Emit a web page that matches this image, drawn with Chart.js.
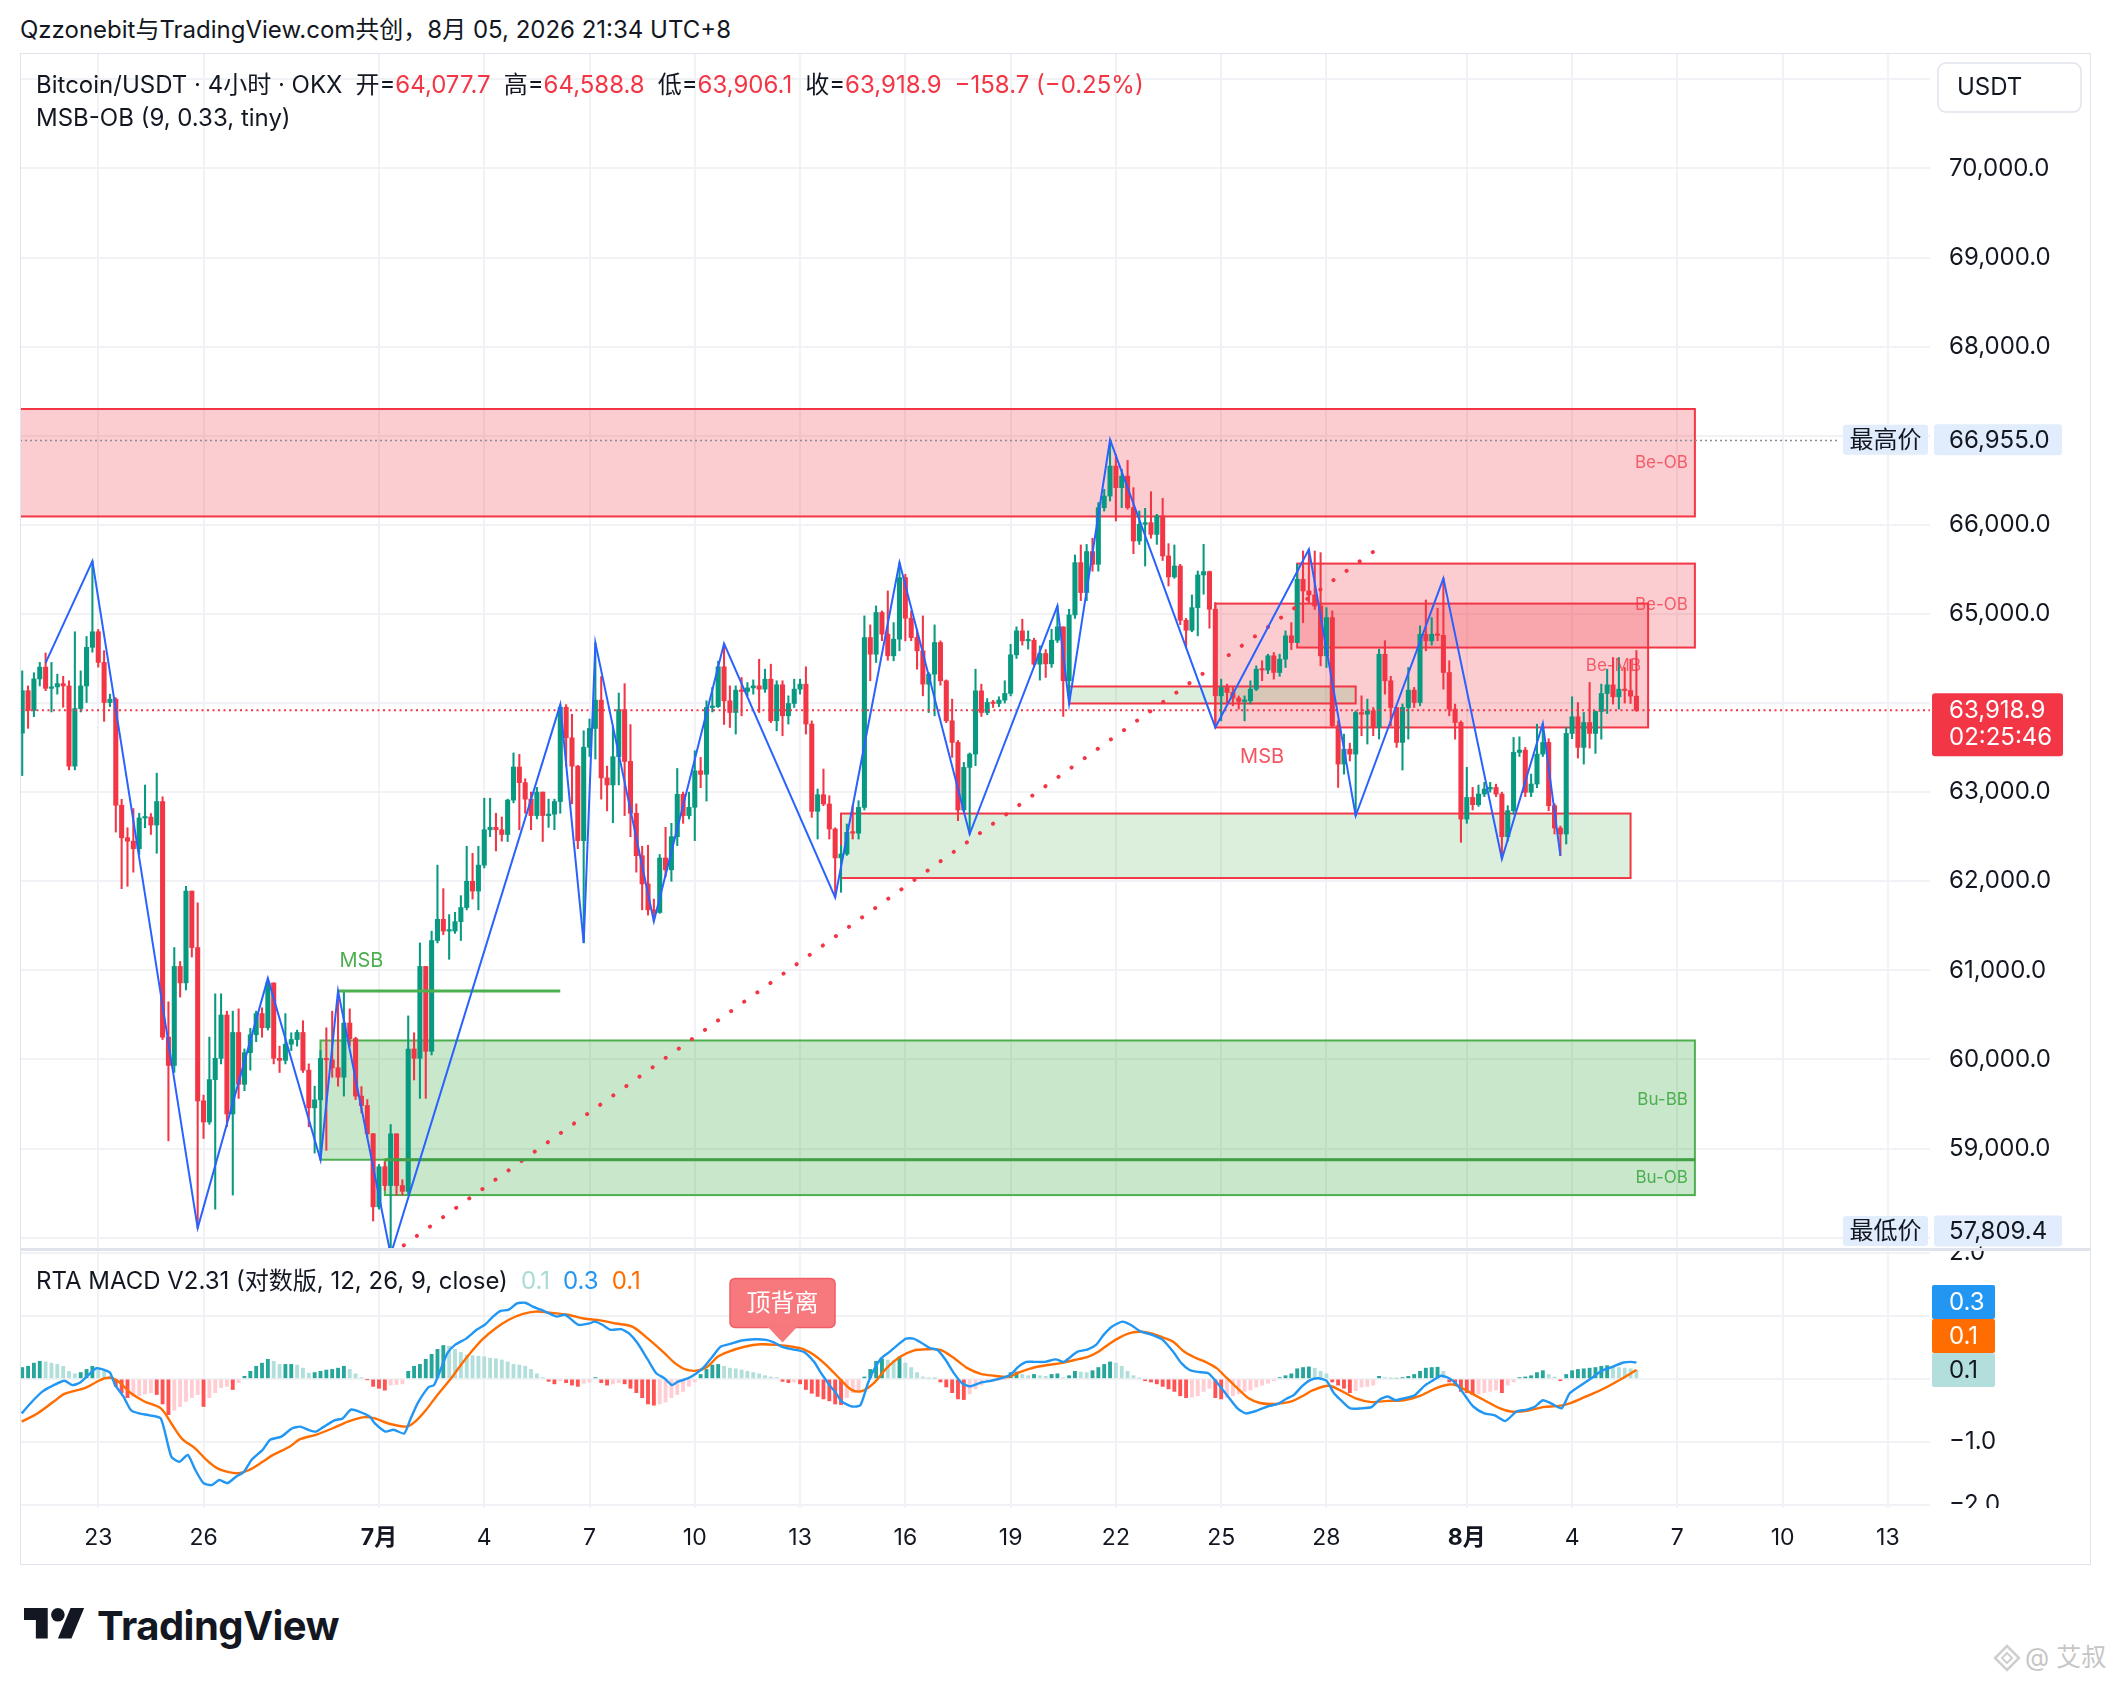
<!DOCTYPE html>
<html>
<head>
<meta charset="utf-8">
<title>Bitcoin/USDT 4h</title>
<script src="https://cdn.jsdelivr.net/npm/chart.js@4.4.1/dist/chart.umd.min.js"></script>
<style>
  html, body { margin: 0; padding: 0; background: #ffffff; }
  body { position: relative; width: 2110px; height: 1684px; overflow: hidden;
         font-family: Inter, "Noto Sans CJK SC", "Noto Sans", sans-serif; color: #131722; }
  .abs { position: absolute; white-space: nowrap; z-index: 2; }
  canvas { position: absolute; z-index: 1; }
  #main { left: 20px; top: 54px; }
  #macd { left: 20px; top: 1251px; }
  #title { left: 20px; top: 13px; font-size: 24px; line-height: 34px; }
  #frame { left: 20px; top: 53px; width: 2071px; height: 1512px; border: 1.5px solid #e0e3eb;
           box-sizing: border-box; pointer-events: none; z-index: 3; }
  #sep { left: 20px; top: 1248px; width: 2070px; height: 3px; background: #e0e3eb; }
  #legend1 { left: 36px; top: 68px; font-size: 24px; line-height: 34px; }
  #legend2 { left: 36px; top: 101px; font-size: 24px; line-height: 34px; }
  #legend3 { left: 36px; top: 1264px; font-size: 24px; line-height: 34px; }
  .red { color: #f23645; }
  .gap { margin-left: 13px; }
  #logo { left: 24px; top: 1601px; }
  #logotext { left: 97px; top: 1604px; font-size: 40px; line-height: 43px; font-weight: 700; letter-spacing: -0.5px; }
  #mark { left: 1993px; top: 1640px; font-size: 25px; line-height: 34px; color: #c6c6c6; }
  #mark svg { vertical-align: -6px; margin-right: 4px; }
</style>
</head>
<body>
<canvas id="main" width="2070" height="1195"></canvas>
<canvas id="macd" width="2070" height="313"></canvas>
<div id="sep" class="abs"></div>
<div id="frame" class="abs"></div>

<div id="title" class="abs">Qzzonebit与TradingView.com共创，8月 05, 2026 21:34 UTC+8</div>
<div id="legend1" class="abs">Bitcoin/USDT · 4小时 · OKX<span class="gap">开=<span class="red">64,077.7</span></span><span class="gap">高=<span class="red">64,588.8</span></span><span class="gap">低=<span class="red">63,906.1</span></span><span class="gap">收=<span class="red">63,918.9</span></span><span class="gap red">−158.7 (−0.25%)</span></div>
<div id="legend2" class="abs">MSB-OB (9, 0.33, tiny)</div>
<div id="legend3" class="abs">RTA MACD V2.31 (对数版, 12, 26, 9, close)<span class="gap" id="lh" style="color:#a9dbd4"></span><span class="gap" id="lm" style="color:#2196f3"></span><span class="gap" id="ls" style="color:#ff6d00"></span></div>

<svg id="logo" class="abs" width="61" height="48" viewBox="0 0 36 28"><path fill="#131722" d="M14 22H7V11H0V4h14v18zM28 22h-8l7.5-18h8L28 22z"/><circle fill="#131722" cx="20" cy="8" r="4"/></svg>
<div id="logotext" class="abs">TradingView</div>
<div id="mark" class="abs"><svg width="28" height="28" viewBox="0 0 28 28"><path d="M14 2 L26 14 L14 26 L2 14 Z" fill="none" stroke="#cfcfcf" stroke-width="2.5"/><path d="M14 9 L19 14 L14 19 L9 14 Z" fill="none" stroke="#cfcfcf" stroke-width="2"/></svg>@ 艾叔</div>

<script>
// 4h candles from Jun 20 20:00 (index 0) to Aug 5 20:00 (index 276)
const OPEN = [
  63663,64139,63916,64271,64403,64165,64181,64218,64192,63292,
  63938,64192,64625,64800,64456,64006,64043,62853,62488,62450,
  62366,62710,62720,62631,62895,60251,59933,61044,60859,61890,
  61256,59536,59298,59774,60013,60499,59388,60303,59721,60076,
  60277,60515,60356,60859,60013,59990,60171,60224,60303,59880,
  59457,59547,60013,59996,59907,59801,60409,60234,59589,59483,
  59166,58346,58796,58585,59166,58585,58520,60118,60013,61044,
  60092,61335,61573,61441,61441,61547,61705,62000,61890,62181,
  62578,62605,62578,62525,62911,63282,63107,62922,62737,63001,
  62737,62753,62895,63953,63610,63292,62456,63504,63715,64033,
  63160,63081,63398,63927,63345,62763,62287,61970,61679,61650,
  62261,62128,62500,62975,62737,62830,63240,63200,63950,63960,
  64407,64025,63894,64145,64130,64170,64193,64156,64268,63801,
  64205,63857,63995,64156,64212,63764,62785,62971,62867,62587,
  62262,62306,62549,62540,62829,64735,64548,65016,64773,64530,
  64717,65408,64952,64735,64586,64212,64324,64679,64250,63801,
  63558,62800,63278,63427,64137,63894,64007,63995,64033,64108,
  64541,64810,64698,64705,64436,64556,64440,64705,64855,64250,
  64989,65576,65240,65700,65557,66193,66323,66660,66417,66547,
  66193,65819,66006,66025,65893,66099,65651,65415,65538,64929,
  64817,65071,65438,65475,65053,64081,64175,64119,64055,64018,
  64025,64156,64380,64370,64530,64343,64492,64754,64679,65389,
  65258,65213,65090,64530,64959,63745,63315,63483,63427,63894,
  63875,63913,63726,64548,64250,63950,63558,63950,64145,64006,
  64772,64698,64772,64760,64343,63932,63782,62698,62941,62859,
  62979,63035,63053,62979,62500,62792,63446,63472,62998,63091,
  63427,63558,62848,62597,62530,63659,63846,63502,63782,63659,
  63905,64107,64204,64070,64156,64140,64077.7
];
const HIGH = [
  64361,64192,64340,64456,64562,64456,64324,64300,64250,64800,
  64361,64747,65593,64826,64588,64100,64060,62920,62600,62816,
  62763,63080,62760,63213,62948,60647,61256,61100,61943,61890,
  61759,59600,60251,60737,60737,60542,60542,60568,60118,60350,
  60542,60580,60912,60859,60150,60515,60300,60330,60435,59950,
  59700,60100,60356,60542,60769,60753,60568,60250,59695,59550,
  59170,58822,58850,59270,59166,58650,60489,60300,61308,61044,
  61440,62181,61917,61626,61652,61838,62393,62314,62393,62932,
  62932,62763,62721,62922,63440,63424,63150,63001,63054,63001,
  62922,62922,63982,63982,63874,63300,63689,63821,64676,64298,
  63292,63742,64112,64218,63758,62869,62393,62404,61800,62300,
  62605,62650,63266,63001,63000,63465,63390,64025,64175,64470,
  64668,64193,64193,64287,64230,64260,64492,64380,64436,64250,
  64250,64081,64268,64268,64407,63800,63035,63259,62960,62600,
  62400,62643,62848,62904,64978,64877,65090,65034,65258,64903,
  65576,65445,65034,64829,64978,64343,64877,64698,64260,64044,
  63580,63334,63440,64380,64212,64050,64030,64070,64250,64660,
  64855,64941,64810,64728,64642,64600,64829,65090,64855,65053,
  65662,65774,65780,65850,66250,66398,66955,66790,66622,66723,
  66417,66155,66185,66372,66118,66297,65789,65774,65557,64950,
  65213,65482,65781,65482,65127,64268,64212,64175,64080,64080,
  64250,64418,64474,64548,64567,64548,64810,64903,65557,65706,
  65725,65706,65688,65071,65034,63800,63651,63550,63913,64081,
  64044,63950,64604,64700,64300,63950,63990,64399,64175,64866,
  65157,64959,65064,65400,64474,63988,63800,63278,63053,63080,
  63110,63110,63090,63000,62848,63614,63621,63502,63203,63763,
  63771,63600,62870,62620,63726,64070,64006,63894,64231,63913,
  64212,64380,64511,64511,64399,64492,64588.8
];
const LOW = [
  63186,63716,63848,64192,64139,63900,64100,63953,63250,63250,
  63900,64006,64570,64403,63795,63960,62552,61917,61943,62102,
  62300,62600,62525,62314,60224,59087,59855,60700,60780,61150,
  58108,59113,59272,58320,59950,59245,58478,59563,59650,59880,
  60200,60250,60330,59950,59854,59950,60100,60150,59854,59245,
  58950,58875,58980,59800,59700,59589,60150,59550,59400,59120,
  58187,58320,58532,57809.4,58478,58478,58480,59770,59563,59563,
  60050,61308,61400,61124,61415,61335,61679,61800,61679,62150,
  62500,62340,62450,62446,62880,62578,62763,62578,62700,62446,
  62605,62578,62763,63292,62869,62366,61308,63400,63372,62922,
  62790,62657,63081,62737,62500,62102,61679,61620,61550,61640,
  62050,62000,62400,62650,62700,62456,63050,62900,63900,63950,
  63760,63726,63652,63857,64080,64100,63894,64120,63780,63689,
  63633,63764,63950,64100,63652,62717,62474,62848,62474,61820,
  61876,62290,62474,62474,62800,64250,64455,64700,64480,64474,
  64586,64698,64700,64380,64081,63894,63857,64200,63780,63390,
  62680,62780,62530,63297,63850,63870,63950,63960,64000,64080,
  64500,64650,64605,64400,64257,64287,64400,64680,63850,63990,
  64950,65150,65150,65480,65480,66155,66267,66043,66193,66174,
  65677,65780,65538,65850,65781,65600,65314,65400,64880,64623,
  64800,64754,65221,64840,63726,63800,64000,63969,63932,63800,
  63990,64140,64250,64330,64268,64300,64399,64600,64679,64903,
  65127,65050,64417,64399,63726,63053,63202,63350,62735,63633,
  63540,63633,63596,64100,63745,63502,63248,63595,63950,63969,
  64586,64650,64700,64156,63857,63595,62437,62650,62800,62840,
  62950,63000,62950,62250,62450,62750,63400,62950,62950,63050,
  63400,62792,62530,62287,62418,63600,63382,63315,63494,63435,
  63595,63883,63988,63932,64000,63995,63906.1
];
const CLOSE = [
  64139,63916,64271,64403,64165,64181,64218,64192,63292,63938,
  64192,64625,64800,64456,64006,64043,62853,62488,62450,62366,
  62710,62720,62631,62895,60251,59933,61044,60859,61890,61256,
  59536,59298,59774,60013,60499,59388,60303,59721,60076,60277,
  60515,60356,60859,60013,59990,60171,60224,60303,59880,59457,
  59547,60013,59996,59907,59801,60409,60234,59589,59483,59166,
  58346,58796,58585,59166,58585,58520,60118,60013,61044,60092,
  61335,61573,61441,61441,61547,61705,62000,61890,62181,62578,
  62605,62578,62525,62911,63282,63107,62922,62737,63001,62737,
  62753,62895,63953,63610,63292,62456,63504,63715,64033,63160,
  63081,63398,63927,63345,62763,62287,61970,61679,61650,62261,
  62128,62500,62975,62737,62830,63240,63200,63950,63960,64407,
  64025,63894,64145,64130,64170,64193,64156,64268,63801,64205,
  63857,63995,64156,64212,63764,62785,62971,62867,62587,62262,
  62306,62549,62540,62829,64735,64548,65016,64773,64530,64717,
  65408,64952,64735,64586,64212,64324,64679,64250,63801,63558,
  62800,63278,63427,64137,63894,64007,63995,64033,64108,64541,
  64810,64698,64705,64436,64556,64440,64705,64855,64250,64989,
  65576,65240,65700,65557,66193,66323,66660,66417,66547,66193,
  65819,66006,66025,65893,66099,65651,65415,65538,64929,64817,
  65071,65438,65475,65053,64081,64175,64119,64055,64018,64025,
  64156,64380,64370,64530,64343,64492,64754,64679,65389,65258,
  65213,65090,64530,64959,63745,63315,63483,63427,63894,63875,
  63913,63726,64548,64250,63950,63558,63950,64145,64006,64772,
  64698,64772,64760,64343,63932,63782,62698,62941,62859,62979,
  63035,63053,62979,62500,62792,63446,63472,62998,63091,63427,
  63558,62848,62597,62530,63659,63846,63502,63782,63659,63905,
  64107,64204,64070,64156,64140,64077.7,63918.9
];

// MACD histogram, one bar per candle
const HIST = [
  0.18,0.2,0.25,0.28,0.27,0.25,0.23,0.2,0.12,0.08,
  0.1,0.15,0.2,0.18,0.12,0.04,-0.12,-0.22,-0.3,-0.28,
  -0.27,-0.24,-0.22,-0.25,-0.4,-0.57,-0.5,-0.44,-0.36,-0.3,
  -0.25,-0.44,-0.3,-0.22,-0.14,-0.12,-0.17,-0.06,0.04,0.12,
  0.2,0.25,0.31,0.28,0.23,0.23,0.23,0.22,0.17,0.09,
  0.1,0.12,0.14,0.15,0.17,0.2,0.15,0.08,0.02,-0.01,
  -0.12,-0.15,-0.18,-0.1,-0.09,-0.08,0.12,0.2,0.23,0.31,
  0.39,0.47,0.53,0.52,0.47,0.42,0.38,0.37,0.36,0.35,
  0.33,0.32,0.3,0.27,0.23,0.22,0.2,0.15,0.08,0.02,
  -0.04,-0.08,-0.03,-0.06,-0.1,-0.12,-0.07,-0.05,0.02,-0.06,
  -0.1,-0.08,-0.06,-0.08,-0.15,-0.22,-0.3,-0.4,-0.42,-0.4,
  -0.37,-0.3,-0.25,-0.2,-0.12,-0.05,0.07,0.15,0.22,0.23,
  0.2,0.17,0.16,0.14,0.12,0.1,0.08,0.05,0.03,0.02,
  -0.04,-0.06,-0.05,-0.08,-0.17,-0.23,-0.28,-0.32,-0.35,-0.4,
  -0.41,-0.3,-0.22,-0.18,0.03,0.15,0.28,0.32,0.3,0.29,
  0.35,0.25,0.18,0.1,0.03,0.01,0.005,-0.05,-0.13,-0.22,
  -0.32,-0.33,-0.24,-0.16,-0.1,-0.05,-0.04,-0.02,-0.01,0.1,
  0.11,0.07,0.05,0.07,0.05,0.04,0.07,0.08,0.02,0.05,
  0.12,0.11,0.1,0.13,0.18,0.23,0.27,0.25,0.2,0.12,
  0.05,0.01,-0.03,-0.05,-0.08,-0.12,-0.16,-0.2,-0.27,-0.3,
  -0.29,-0.27,-0.2,-0.15,-0.3,-0.32,-0.3,-0.27,-0.24,-0.2,
  -0.18,-0.13,-0.1,-0.07,-0.03,0.02,0.05,0.08,0.16,0.18,
  0.19,0.17,0.12,0.08,-0.05,-0.1,-0.15,-0.22,-0.19,-0.13,
  -0.12,-0.1,0.04,0.02,0.01,0.005,0.02,0.04,0.07,0.12,
  0.17,0.18,0.185,0.12,-0.05,-0.1,-0.2,-0.22,-0.25,-0.24,
  -0.22,-0.2,-0.18,-0.22,-0.1,-0.05,0.02,0.03,0.05,0.1,
  0.13,0.07,0.03,-0.03,0.07,0.13,0.15,0.16,0.17,0.18,
  0.2,0.21,0.19,0.18,0.17,0.16,0.14
];

// MACD line and signal line, read at points along the curves (x = candle index)
const MACD_X = [-0.1,1.7,3.5,5.4,7.2,8.6,9.9,11.3,12.7,14.1,15.0,15.9,17.3,18.6,20.0,21.8,23.7,25.5,26.9,28.3,
  29.6,31.0,32.4,33.7,35.1,36.5,37.9,39.2,41.1,42.4,44.3,46.1,47.5,48.9,50.2,51.6,53.4,54.8,56.2,57.6,
  59.4,60.3,62.1,63.5,65.3,66.3,67.6,69.5,70.4,71.3,72.7,74.0,75.9,77.7,79.1,80.5,81.8,83.2,84.6,86.0,
  87.3,88.7,90.1,91.4,92.8,93.7,95.1,96.9,97.9,99.2,100.6,102.4,103.8,105.2,107.0,108.4,109.8,111.1,112.0,113.9,
  115.3,116.6,118.0,119.4,121.2,123.0,125.3,127.2,128.5,129.9,131.7,133.6,135.4,136.4,137.2,138.2,139.1,140.1,141.9,143.3,
  144.6,145.6,146.9,148.3,149.7,151.1,152.4,153.8,155.2,156.5,157.9,159.3,160.7,162.0,163.9,165.7,167.5,168.9,170.3,171.7,
  173.0,174.9,176.7,178.1,179.0,180.4,182.2,183.6,184.9,186.3,188.1,189.5,191.3,193.2,195.0,196.8,198.2,199.6,201.0,202.8,
  204.2,206.0,207.8,209.2,211.0,212.9,214.7,216.1,217.4,218.8,220.2,221.6,223.0,224.3,225.7,227.1,228.9,230.7,232.1,233.5,
  234.8,236.2,238.1,239.9,241.3,242.6,244.0,245.4,246.8,248.1,250.0,251.8,253.6,255.5,257.3,258.7,260.0,261.4,263.2,264.6,
  266.4,268.3,270.1,271.9,273.8,275.1,276.0];
const MACD_Y = [-0.55,-0.36,-0.20,-0.10,-0.03,-0.10,-0.06,0.06,0.17,0.14,0.10,-0.10,-0.28,-0.50,-0.55,-0.58,-0.63,-1.24,-1.32,-1.21,
  -1.45,-1.66,-1.69,-1.61,-1.66,-1.56,-1.48,-1.29,-1.13,-0.97,-0.92,-0.79,-0.76,-0.81,-0.84,-0.76,-0.66,-0.63,-0.49,-0.52,
  -0.60,-0.71,-0.84,-0.81,-0.87,-0.66,-0.39,-0.13,-0.10,0.09,0.41,0.54,0.64,0.78,0.86,0.99,1.08,1.10,1.20,1.21,
  1.15,1.10,1.04,0.99,1.02,0.96,0.86,0.88,0.91,0.86,0.78,0.79,0.72,0.57,0.30,0.09,0.01,-0.10,-0.05,0.01,
  0.09,0.19,0.35,0.51,0.56,0.61,0.63,0.62,0.58,0.51,0.47,0.43,0.27,0.12,0.01,-0.12,-0.22,-0.36,-0.44,-0.42,
  -0.07,0.14,0.33,0.43,0.54,0.64,0.64,0.57,0.49,0.46,0.30,0.09,-0.07,-0.12,-0.06,-0.03,0.01,0.06,0.19,0.27,
  0.27,0.27,0.31,0.27,0.33,0.43,0.47,0.54,0.70,0.83,0.91,0.86,0.75,0.70,0.62,0.43,0.25,0.14,0.11,0.09,
  -0.05,-0.26,-0.47,-0.55,-0.51,-0.44,-0.40,-0.32,-0.26,-0.12,-0.02,0.01,-0.03,-0.23,-0.36,-0.47,-0.47,-0.45,-0.33,-0.28,
  -0.34,-0.31,-0.26,-0.10,-0.02,0.05,0.01,-0.10,-0.28,-0.44,-0.55,-0.58,-0.67,-0.52,-0.49,-0.44,-0.34,-0.39,-0.47,-0.23,
  -0.11,0.01,0.13,0.19,0.26,0.27,0.26];
const SIGNAL_X = [-0.1,2.6,5.4,7.2,9.0,10.9,12.7,14.1,15.4,16.8,18.6,20.9,23.7,25.5,27.3,29.6,31.5,33.3,35.1,37.0,
  38.8,41.1,42.9,45.7,47.5,50.2,53.0,55.7,58.5,60.3,62.6,65.8,67.2,69.0,70.8,73.1,75.0,76.8,78.6,80.9,
  83.2,85.5,87.8,90.5,93.3,96.0,98.8,101.5,104.3,107.0,109.8,111.6,113.4,115.3,117.1,118.9,120.7,123.5,126.2,129.0,
  131.7,133.6,135.4,137.7,139.8,141.9,143.7,145.6,147.8,150.1,152.4,154.7,157.0,159.3,161.6,163.9,166.2,168.5,170.7,173.0,
  175.3,177.6,179.9,182.2,184.0,185.9,187.7,189.5,191.3,193.2,195.0,196.8,198.7,200.5,202.3,204.2,206.0,207.8,209.7,211.5,
  213.3,215.2,217.0,218.8,220.7,223.4,225.7,228.0,230.7,233.5,236.2,239.0,241.7,244.0,245.4,247.2,250.0,252.7,254.5,257.3,
  260.0,262.8,264.6,267.4,270.1,272.9,276.0];
const SIGNAL_Y = [-0.68,-0.55,-0.36,-0.24,-0.19,-0.14,-0.05,0.01,0.01,-0.07,-0.23,-0.36,-0.47,-0.71,-0.95,-1.11,-1.29,-1.42,-1.48,-1.50,
  -1.45,-1.32,-1.21,-1.08,-0.96,-0.89,-0.79,-0.68,-0.61,-0.63,-0.71,-0.76,-0.68,-0.50,-0.28,-0.02,0.22,0.43,0.62,0.80,
  0.94,1.03,1.07,1.05,1.02,0.96,0.93,0.88,0.83,0.64,0.41,0.25,0.15,0.13,0.19,0.35,0.43,0.51,0.55,0.54,
  0.51,0.47,0.38,0.20,0.00,-0.18,-0.19,-0.07,0.17,0.35,0.45,0.47,0.46,0.33,0.17,0.08,0.05,0.03,0.11,0.18,
  0.22,0.25,0.30,0.35,0.43,0.56,0.66,0.73,0.75,0.72,0.66,0.59,0.43,0.34,0.27,0.17,0.01,-0.15,-0.31,-0.38,
  -0.40,-0.39,-0.36,-0.28,-0.18,-0.11,-0.20,-0.31,-0.37,-0.35,-0.34,-0.27,-0.15,-0.09,-0.11,-0.20,-0.34,-0.47,-0.52,-0.51,
  -0.45,-0.43,-0.39,-0.28,-0.17,-0.03,0.14];

// MSB-OB zigzag pivots
const ZZ_X = [4,12,30,42,51,54,63,92,96,98,108,120,139,150,162,177,179,186,204,220,228,243,253,260,263];
const ZZ_PRICE = [64450,65593,58108,60912,58875,60769,57809.4,63982,61308,64676,61550,64668,61820,65576,62530,65090,63990,66955,63726,65725,62735,65400,62250,63771,62287];

// order-block / breaker zones
const ZONE_START  = [-5, 51, 62, 140, 204, 218, 179];
const ZONE_END    = [286, 286, 286, 275, 278, 286, 228];
const ZONE_TOP    = [67300, 60213, 58875, 62760, 65116, 65565, 64186];
const ZONE_BOTTOM = [66094, 58875, 58478, 62036, 63726, 64623, 63995];
const ZONE_KIND   = ['bear', 'bull', 'bull', 'broken', 'bear', 'bear', 'broken'];
const ZONE_LABEL  = ['Be-OB', 'Bu-BB', 'Bu-OB', '', 'Be-MB', 'Be-OB', ''];
const ZONE_LABEL_PRICE = [66697, 59548, 58673, null, 64419, 65098, null];

const MSB_FROM = 54, MSB_TO = 92, MSB_PRICE = 60769;
const BU_LINE_FROM = 62, BU_LINE_TO = 286, BU_LINE_PRICE = 58875;
const TREND_X = [63, 233];
const TREND_PRICE = [57809.4, 65792];
const LAST_PRICE = 63918.9, COUNTDOWN = '02:25:46';
const HIGH_MARK = 66955.0, LOW_MARK = 57809.4;
const CALLOUT_X = 130, CALLOUT_Y = 0.58;

const TICK_POS = [13, 31, 61, 79, 97, 115, 133, 151, 169, 187, 205, 223, 247, 265, 283, 301, 319];
const TICK_LABELS = ['23','26','7月','4','7','10','13','16','19','22','25','28','8月','4','7','10','13'];
const PRICE_TICKS = [58000,59000,60000,61000,62000,63000,64000,65000,66000,67000,68000,69000,70000,71000];
const MACD_TICKS = [-2, -1, 0, 1, 2];

const X_MIN = -0.38, X_MAX = 326.2;
const Y_MIN = 57873, Y_MAX = 71284;
const M_MIN = -2.055, M_MAX = 2.034;

const FONT = 'Inter, "Noto Sans CJK SC", "Noto Sans", sans-serif';
const TEXT = '#131722';
const GRID = '#f0f2f5';
const UP = '#089981', DOWN = '#f23645';
const ZONE_STYLE = {
  bear:   { fill: 'rgba(242,54,69,0.25)', line: '#f23645' },
  bull:   { fill: 'rgba(76,175,80,0.30)', line: '#4caf50' },
  broken: { fill: 'rgba(76,175,80,0.20)', line: '#f23645' }
};

Chart.defaults.font.family = FONT;
Chart.defaults.color = TEXT;

const idx = CLOSE.map((_, i) => i);
const candleColor = CLOSE.map((c, i) => c >= OPEN[i] ? UP : DOWN);
const fmtPrice = v => v.toLocaleString('en-US', { minimumFractionDigits: 1, maximumFractionDigits: 1 });
const fmtMacd = v => (v < 0 ? '\u2212' : '') + Math.abs(v).toFixed(1);

function badge(ctx, x, y, w, h, bg, r) {
  ctx.beginPath();
  ctx.roundRect(x, y, w, h, r);
  ctx.fillStyle = bg;
  ctx.fill();
}

const mainDecor = {
  id: 'mainDecor',
  beforeDatasetsDraw(chart) {
    const { ctx, chartArea: a, scales: { x, y } } = chart;
    ctx.save();
    ctx.beginPath();
    ctx.rect(a.left, a.top, a.right - a.left, a.bottom - a.top);
    ctx.clip();
    for (let k = 0; k < ZONE_START.length; k++) {
      const st = ZONE_STYLE[ZONE_KIND[k]];
      const x0 = x.getPixelForValue(ZONE_START[k]), x1 = x.getPixelForValue(ZONE_END[k]);
      const y0 = y.getPixelForValue(ZONE_TOP[k]), y1 = y.getPixelForValue(ZONE_BOTTOM[k]);
      ctx.fillStyle = st.fill;
      ctx.fillRect(x0, y0, x1 - x0, y1 - y0);
      ctx.strokeStyle = st.line;
      ctx.lineWidth = 2;
      ctx.strokeRect(x0, y0, x1 - x0, y1 - y0);
    }
    // dotted guide at the highest price
    const hy = Math.round(y.getPixelForValue(HIGH_MARK)) + 0.5;
    ctx.setLineDash([2, 3]);
    ctx.strokeStyle = '#8a8d96';
    ctx.lineWidth = 1.6;
    ctx.beginPath();
    ctx.moveTo(a.left, hy);
    ctx.lineTo(1820, hy);
    ctx.stroke();
    ctx.restore();
  },
  afterDatasetsDraw(chart) {
    const { ctx, chartArea: a, scales: { x, y } } = chart;
    ctx.save();
    ctx.beginPath();
    ctx.rect(a.left, a.top, a.right - a.left, a.bottom - a.top);
    ctx.clip();
    ctx.font = '17px ' + FONT;
    ctx.textAlign = 'right';
    ctx.textBaseline = 'middle';
    for (let k = 0; k < ZONE_START.length; k++) {
      if (!ZONE_LABEL[k]) continue;
      ctx.fillStyle = ZONE_KIND[k] === 'bull' ? '#4caf50' : 'rgba(242,54,69,0.75)';
      ctx.fillText(ZONE_LABEL[k], x.getPixelForValue(ZONE_END[k]) - 7, y.getPixelForValue(ZONE_LABEL_PRICE[k]));
    }
    ctx.font = '20px ' + FONT;
    ctx.textAlign = 'center';
    ctx.fillStyle = '#4caf50';
    ctx.fillText('MSB', x.getPixelForValue(58), y.getPixelForValue(61101));
    ctx.fillStyle = 'rgba(242,54,69,0.85)';
    ctx.fillText('MSB', x.getPixelForValue(212), y.getPixelForValue(63394));
    ctx.restore();
  },
  afterDraw(chart) {
    const { ctx, chartArea: a, scales: { y } } = chart;
    ctx.save();
    ctx.textBaseline = 'middle';
    ctx.textAlign = 'left';
    ctx.font = '24px ' + FONT;
    // currency box
    ctx.beginPath();
    ctx.roundRect(1918, 9, 143, 49, 8);
    ctx.fillStyle = '#ffffff';
    ctx.fill();
    ctx.strokeStyle = '#e0e3eb';
    ctx.lineWidth = 1.5;
    ctx.stroke();
    ctx.fillStyle = TEXT;
    ctx.fillText('USDT', 1937, 34);
    // highest / lowest marks
    const marks = [[HIGH_MARK, '最高价'], [LOW_MARK, '最低价']];
    marks.forEach(([v, name]) => {
      let cy = y.getPixelForValue(v);
      cy = Math.min(Math.max(cy, a.top + 18), a.bottom - 18);
      badge(ctx, 1823, cy - 15, 85, 30, '#e1ecfc', 3);
      badge(ctx, 1914, cy - 15.5, 128, 31, '#e1ecfc', 3);
      ctx.fillStyle = TEXT;
      ctx.textAlign = 'center';
      ctx.fillText(name, 1865.5, cy + 1);
      ctx.textAlign = 'left';
      ctx.fillText(fmtPrice(v), 1929, cy + 1);
    });
    // last price + countdown
    const ly = y.getPixelForValue(LAST_PRICE);
    badge(ctx, 1912, ly - 17, 131, 63, '#f23645', 3);
    ctx.fillStyle = '#ffffff';
    ctx.fillText(fmtPrice(LAST_PRICE), 1929, ly + 1);
    ctx.fillText(COUNTDOWN, 1929, ly + 28);
    ctx.restore();
  }
};

const macdDecor = {
  id: 'macdDecor',
  afterDatasetsDraw(chart) {
    const { ctx, scales: { x, y } } = chart;
    const tx = x.getPixelForValue(CALLOUT_X), ty = y.getPixelForValue(CALLOUT_Y);
    const w = 105, h = 49, gap = 15;
    ctx.save();
    ctx.fillStyle = '#f7797e';
    ctx.strokeStyle = '#ef5f65';
    ctx.lineWidth = 1.5;
    ctx.beginPath();
    ctx.roundRect(tx - w / 2, ty - gap - h, w, h, 5);
    ctx.fill();
    ctx.stroke();
    ctx.beginPath();
    ctx.moveTo(tx - 15, ty - gap - 1);
    ctx.lineTo(tx, ty);
    ctx.lineTo(tx + 15, ty - gap - 1);
    ctx.closePath();
    ctx.fill();
    ctx.fillStyle = '#ffffff';
    ctx.font = '24px ' + FONT;
    ctx.textAlign = 'center';
    ctx.textBaseline = 'middle';
    ctx.fillText('顶背离', tx, ty - gap - h / 2 + 1);
    ctx.restore();
  },
  afterDraw(chart) {
    const { ctx, chartArea: a, scales: { y } } = chart;
    ctx.save();
    // the pane cuts the lowest axis label, as in the terminal
    ctx.fillStyle = '#ffffff';
    ctx.fillRect(a.right, a.bottom, chart.width - a.right, chart.height - a.bottom);
    const items = [
      [HIST[HIST.length - 1], '#b2dfdb', TEXT],
      [SIGNAL_Y[SIGNAL_Y.length - 1], '#ff6d00', '#ffffff'],
      [MACD_Y[MACD_Y.length - 1], '#2196f3', '#ffffff']
    ];
    const h = 34;
    let prev = Infinity;
    ctx.font = '24px ' + FONT;
    ctx.textAlign = 'left';
    ctx.textBaseline = 'middle';
    items.forEach(([v, bg, fg]) => {
      const cy = Math.min(y.getPixelForValue(v), prev - h);
      prev = cy;
      badge(ctx, 1912, cy - h / 2, 63, h, bg, 2);
      ctx.fillStyle = fg;
      ctx.fillText(v.toFixed(1), 1929, cy + 1);
    });
    ctx.restore();
  }
};

const xScaleBase = {
  type: 'linear', min: X_MIN, max: X_MAX, offset: false,
  grid: { color: GRID, lineWidth: 2, drawTicks: false, offset: false },
  border: { display: false },
  afterBuildTicks: a => { a.ticks = TICK_POS.map(v => ({ value: v })); }
};

new Chart(document.getElementById('main'), {
  type: 'bar',
  data: {
    datasets: [
      { type: 'line', data: ZZ_X.map((v, k) => ({ x: v, y: ZZ_PRICE[k] })),
        borderColor: '#2962ff', borderWidth: 2, pointRadius: 0, order: 0 },
      { type: 'line', data: [{ x: MSB_FROM, y: MSB_PRICE }, { x: MSB_TO, y: MSB_PRICE }],
        borderColor: '#4caf50', borderWidth: 3, pointRadius: 0, order: 1 },
      { type: 'line', data: [{ x: BU_LINE_FROM, y: BU_LINE_PRICE }, { x: BU_LINE_TO, y: BU_LINE_PRICE }],
        borderColor: '#43a047', borderWidth: 3, pointRadius: 0, order: 1 },
      { type: 'line', data: TREND_X.map((v, k) => ({ x: v, y: TREND_PRICE[k] })),
        borderColor: '#f23645', borderWidth: 4, borderDash: [0.1, 16], borderCapStyle: 'round',
        pointRadius: 0, order: 1 },
      { type: 'line', data: [{ x: X_MIN, y: LAST_PRICE }, { x: X_MAX, y: LAST_PRICE }],
        borderColor: '#f23645', borderWidth: 2, borderDash: [2, 3.5], pointRadius: 0, order: 2 },
      { data: idx.map(i => ({ x: i, y: [OPEN[i], CLOSE[i]] })), backgroundColor: candleColor,
        barThickness: 4.4, minBarLength: 1.5, grouped: false, order: 3 },
      { data: idx.map(i => ({ x: i, y: [LOW[i], HIGH[i]] })), backgroundColor: candleColor,
        barThickness: 1.4, grouped: false, order: 4 }
    ]
  },
  options: {
    responsive: false, animation: false, devicePixelRatio: 1, events: [],
    layout: { padding: 0 },
    plugins: { legend: { display: false }, tooltip: { enabled: false } },
    scales: {
      x: Object.assign({}, xScaleBase, {
        ticks: { display: false },
        afterFit: a => { a.height = 0; }
      }),
      y: {
        position: 'right', min: Y_MIN, max: Y_MAX,
        grid: { color: GRID, lineWidth: 2, drawTicks: false },
        border: { display: false },
        ticks: { padding: 19, color: TEXT, font: { size: 24 },
                 callback: v => Math.abs(v - LAST_PRICE) < 500 ? '' : fmtPrice(v) },
        afterBuildTicks: a => { a.ticks = PRICE_TICKS.map(v => ({ value: v })); },
        afterFit: a => { a.width = 160; a.paddingTop = 0; a.paddingBottom = 0; }
      }
    }
  },
  plugins: [mainDecor]
});

const histColor = HIST.map((v, i) => {
  const p = i > 0 ? HIST[i - 1] : 0;
  if (v >= 0) return v >= p ? '#26a69a' : '#b2dfdb';
  return v <= p ? '#ff5252' : '#ffcdd2';
});

new Chart(document.getElementById('macd'), {
  type: 'bar',
  data: {
    datasets: [
      { type: 'line', data: MACD_X.map((v, k) => ({ x: v, y: MACD_Y[k] })),
        borderColor: '#2196f3', borderWidth: 2.4, pointRadius: 0, tension: 0.2, order: 0 },
      { type: 'line', data: SIGNAL_X.map((v, k) => ({ x: v, y: SIGNAL_Y[k] })),
        borderColor: '#ff6d00', borderWidth: 2.4, pointRadius: 0, tension: 0.3, order: 1 },
      { data: idx.map(i => ({ x: i, y: HIST[i] })), backgroundColor: histColor,
        barThickness: 3.2, grouped: false, order: 2 }
    ]
  },
  options: {
    responsive: false, animation: false, devicePixelRatio: 1, events: [],
    layout: { padding: 0 },
    plugins: { legend: { display: false }, tooltip: { enabled: false } },
    scales: {
      x: Object.assign({}, xScaleBase, {
        ticks: {
          autoSkip: false, maxRotation: 0, padding: 16, color: TEXT,
          font: ctx => ({ size: 23, weight: (TICK_LABELS[ctx.index] || '').indexOf('月') >= 0 ? '700' : '400' }),
          callback: (v, i) => TICK_LABELS[i]
        },
        afterFit: a => { a.height = 56; a.paddingLeft = 0; a.paddingRight = 0; }
      }),
      y: {
        position: 'right', min: M_MIN, max: M_MAX,
        grid: { color: GRID, lineWidth: 2, drawTicks: false },
        border: { display: false },
        ticks: { padding: 19, color: TEXT, font: { size: 24 }, callback: v => fmtMacd(v) },
        afterBuildTicks: a => { a.ticks = MACD_TICKS.map(v => ({ value: v })); },
        afterFit: a => { a.width = 160; a.paddingTop = 0; a.paddingBottom = 0; }
      }
    }
  },
  plugins: [macdDecor]
});

document.getElementById('lh').textContent = HIST[HIST.length - 1].toFixed(1);
document.getElementById('lm').textContent = MACD_Y[MACD_Y.length - 1].toFixed(1);
document.getElementById('ls').textContent = SIGNAL_Y[SIGNAL_Y.length - 1].toFixed(1);
</script>
</body>
</html>
